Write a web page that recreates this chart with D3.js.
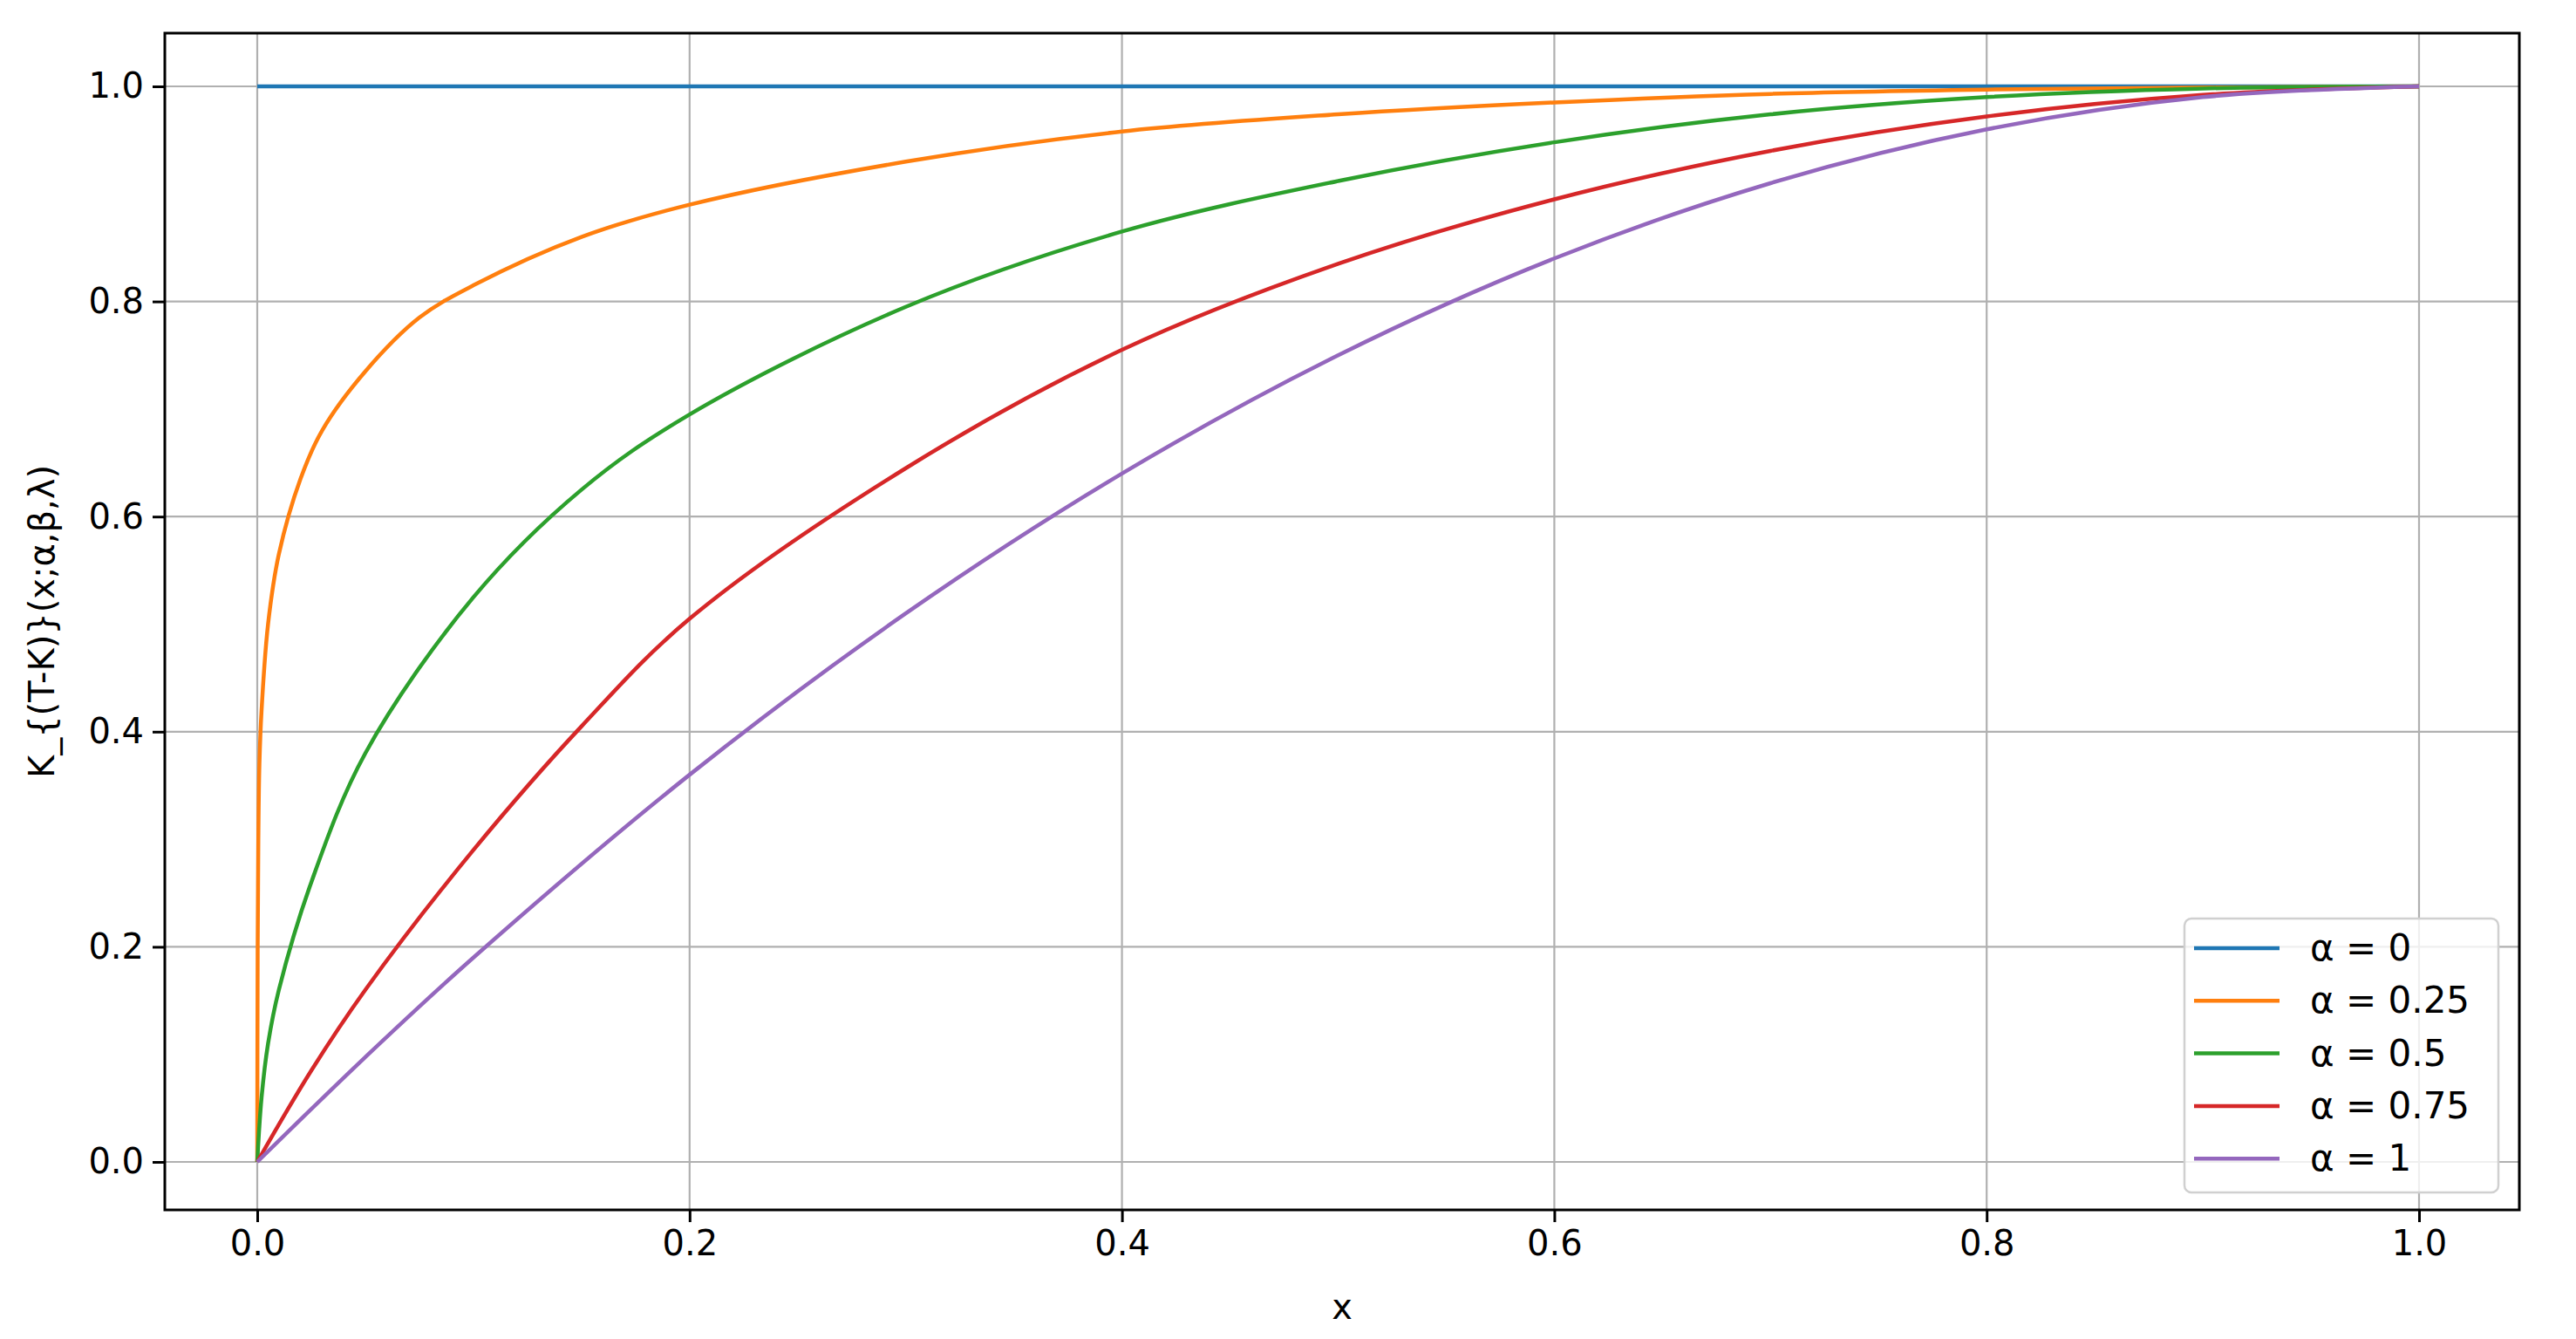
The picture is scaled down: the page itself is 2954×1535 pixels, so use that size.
<!DOCTYPE html><html><head><meta charset="utf-8"><script src="https://cdn.jsdelivr.net/npm/d3@7"></script>
<style>body{margin:0;background:#fff}text{font-family:"DejaVu Sans",sans-serif}</style></head><body><svg id="c" width="2954" height="1535"></svg><script>
const xTicks=[0,0.2,0.4,0.6,0.8,1.0];
const yTicks=[0,0.2,0.4,0.6,0.8,1.0];
const seriesNames=["α = 0","α = 0.25","α = 0.5","α = 0.75","α = 1"];
const colors=["#1f77b4","#ff7f0e","#2ca02c","#d62728","#9467bd"];
const s0=[[0,1],[1,1]];
const s25=[[0,0],[0.0002,0.2],[0.0005,0.3],[0.001,0.37],[0.002,0.42],[0.005,0.5],[0.01,0.565],[0.02,0.635],[0.03,0.68],[0.05,0.735],[0.075,0.785],[0.1,0.815],[0.15,0.86],[0.2,0.89],[0.3,0.93],[0.4,0.958],[0.5,0.974],[0.6,0.985],[0.7,0.993],[0.8,0.997],[0.9,0.999],[1,1]];
const s50=[[0,0],[0.002,0.06],[0.005,0.11],[0.01,0.16],[0.025,0.26],[0.05,0.38],[0.1,0.525],[0.15,0.625],[0.2,0.695],[0.3,0.795],[0.4,0.865],[0.5,0.912],[0.6,0.948],[0.7,0.974],[0.8,0.99],[0.9,0.998],[1,1]];
const s75=[[0,0],[0.025,0.085],[0.05,0.16],[0.1,0.29],[0.15,0.405],[0.2,0.505],[0.3,0.645],[0.4,0.755],[0.5,0.835],[0.6,0.895],[0.7,0.94],[0.8,0.972],[0.9,0.992],[1,1]];
const s100=[[0,0],[0.05,0.0975],[0.1,0.19],[0.2,0.36],[0.3,0.51],[0.4,0.64],[0.5,0.75],[0.6,0.84],[0.7,0.91],[0.8,0.96],[0.9,0.99],[1,1]];
const series=[s0,s25,s50,s75,s100];

const svg=d3.select("#c");
const L=189,R=2889,T=38,B=1387;
const x=d3.scaleLinear().domain([0,1]).range([295,2774]);
const y=d3.scaleLinear().domain([0,1]).range([1332,99]);
const g=svg.append("g");
xTicks.forEach(t=>g.append("line").attr("x1",x(t)).attr("x2",x(t)).attr("y1",T).attr("y2",B).attr("stroke","#b0b0b0").attr("stroke-width",2.2));
yTicks.forEach(t=>g.append("line").attr("y1",y(t)).attr("y2",y(t)).attr("x1",L).attr("x2",R).attr("stroke","#b0b0b0").attr("stroke-width",2.2));
const line=d3.line().x(d=>x(d[0])).y(d=>y(d[1])).curve(d3.curveCatmullRom.alpha(0.5));
series.forEach((s,i)=>g.append("path").attr("d",line(s)).attr("fill","none").attr("stroke",colors[i]).attr("stroke-width",4.5));
svg.append("rect").attr("x",L).attr("y",T).attr("width",R-L).attr("height",B-T).attr("fill","none").attr("stroke","#000").attr("stroke-width",3);
const xa=svg.append("g").attr("transform",`translate(0,${B})`).call(d3.axisBottom(x).tickValues(xTicks).tickFormat(d3.format(".1f")).tickSize(14).tickPadding(10));
const ya=svg.append("g").attr("transform",`translate(${L},0)`).call(d3.axisLeft(y).tickValues(yTicks).tickFormat(d3.format(".1f")).tickSize(14).tickPadding(10));
[xa,ya].forEach(a=>{a.select(".domain").remove();a.selectAll("line").attr("stroke","#000").attr("stroke-width",3);a.selectAll("text").attr("font-size",40).attr("fill","#000").attr("font-family","DejaVu Sans");});
svg.append("text").attr("x",(L+R)/2).attr("y",1512).attr("text-anchor","middle").attr("font-size",40).text("x");
svg.append("text").attr("transform",`translate(62,${(T+B)/2}) rotate(-90)`).attr("text-anchor","middle").attr("font-size",40).text("K_{(T-K)}(x;α,β,λ)");
const lg=svg.append("g");
lg.append("rect").attr("x",2505).attr("y",1053).attr("width",360).attr("height",314).attr("rx",8).attr("fill","rgba(255,255,255,0.8)").attr("stroke","#d0d0d0").attr("stroke-width",2.5);
seriesNames.forEach((n,i)=>{const yy=1087+i*60.3;
lg.append("line").attr("x1",2516).attr("x2",2614).attr("y1",yy).attr("y2",yy).attr("stroke",colors[i]).attr("stroke-width",4.5);
lg.append("text").attr("x",2649).attr("y",yy+14).attr("font-size",42).text(n);});
</script></body></html>
